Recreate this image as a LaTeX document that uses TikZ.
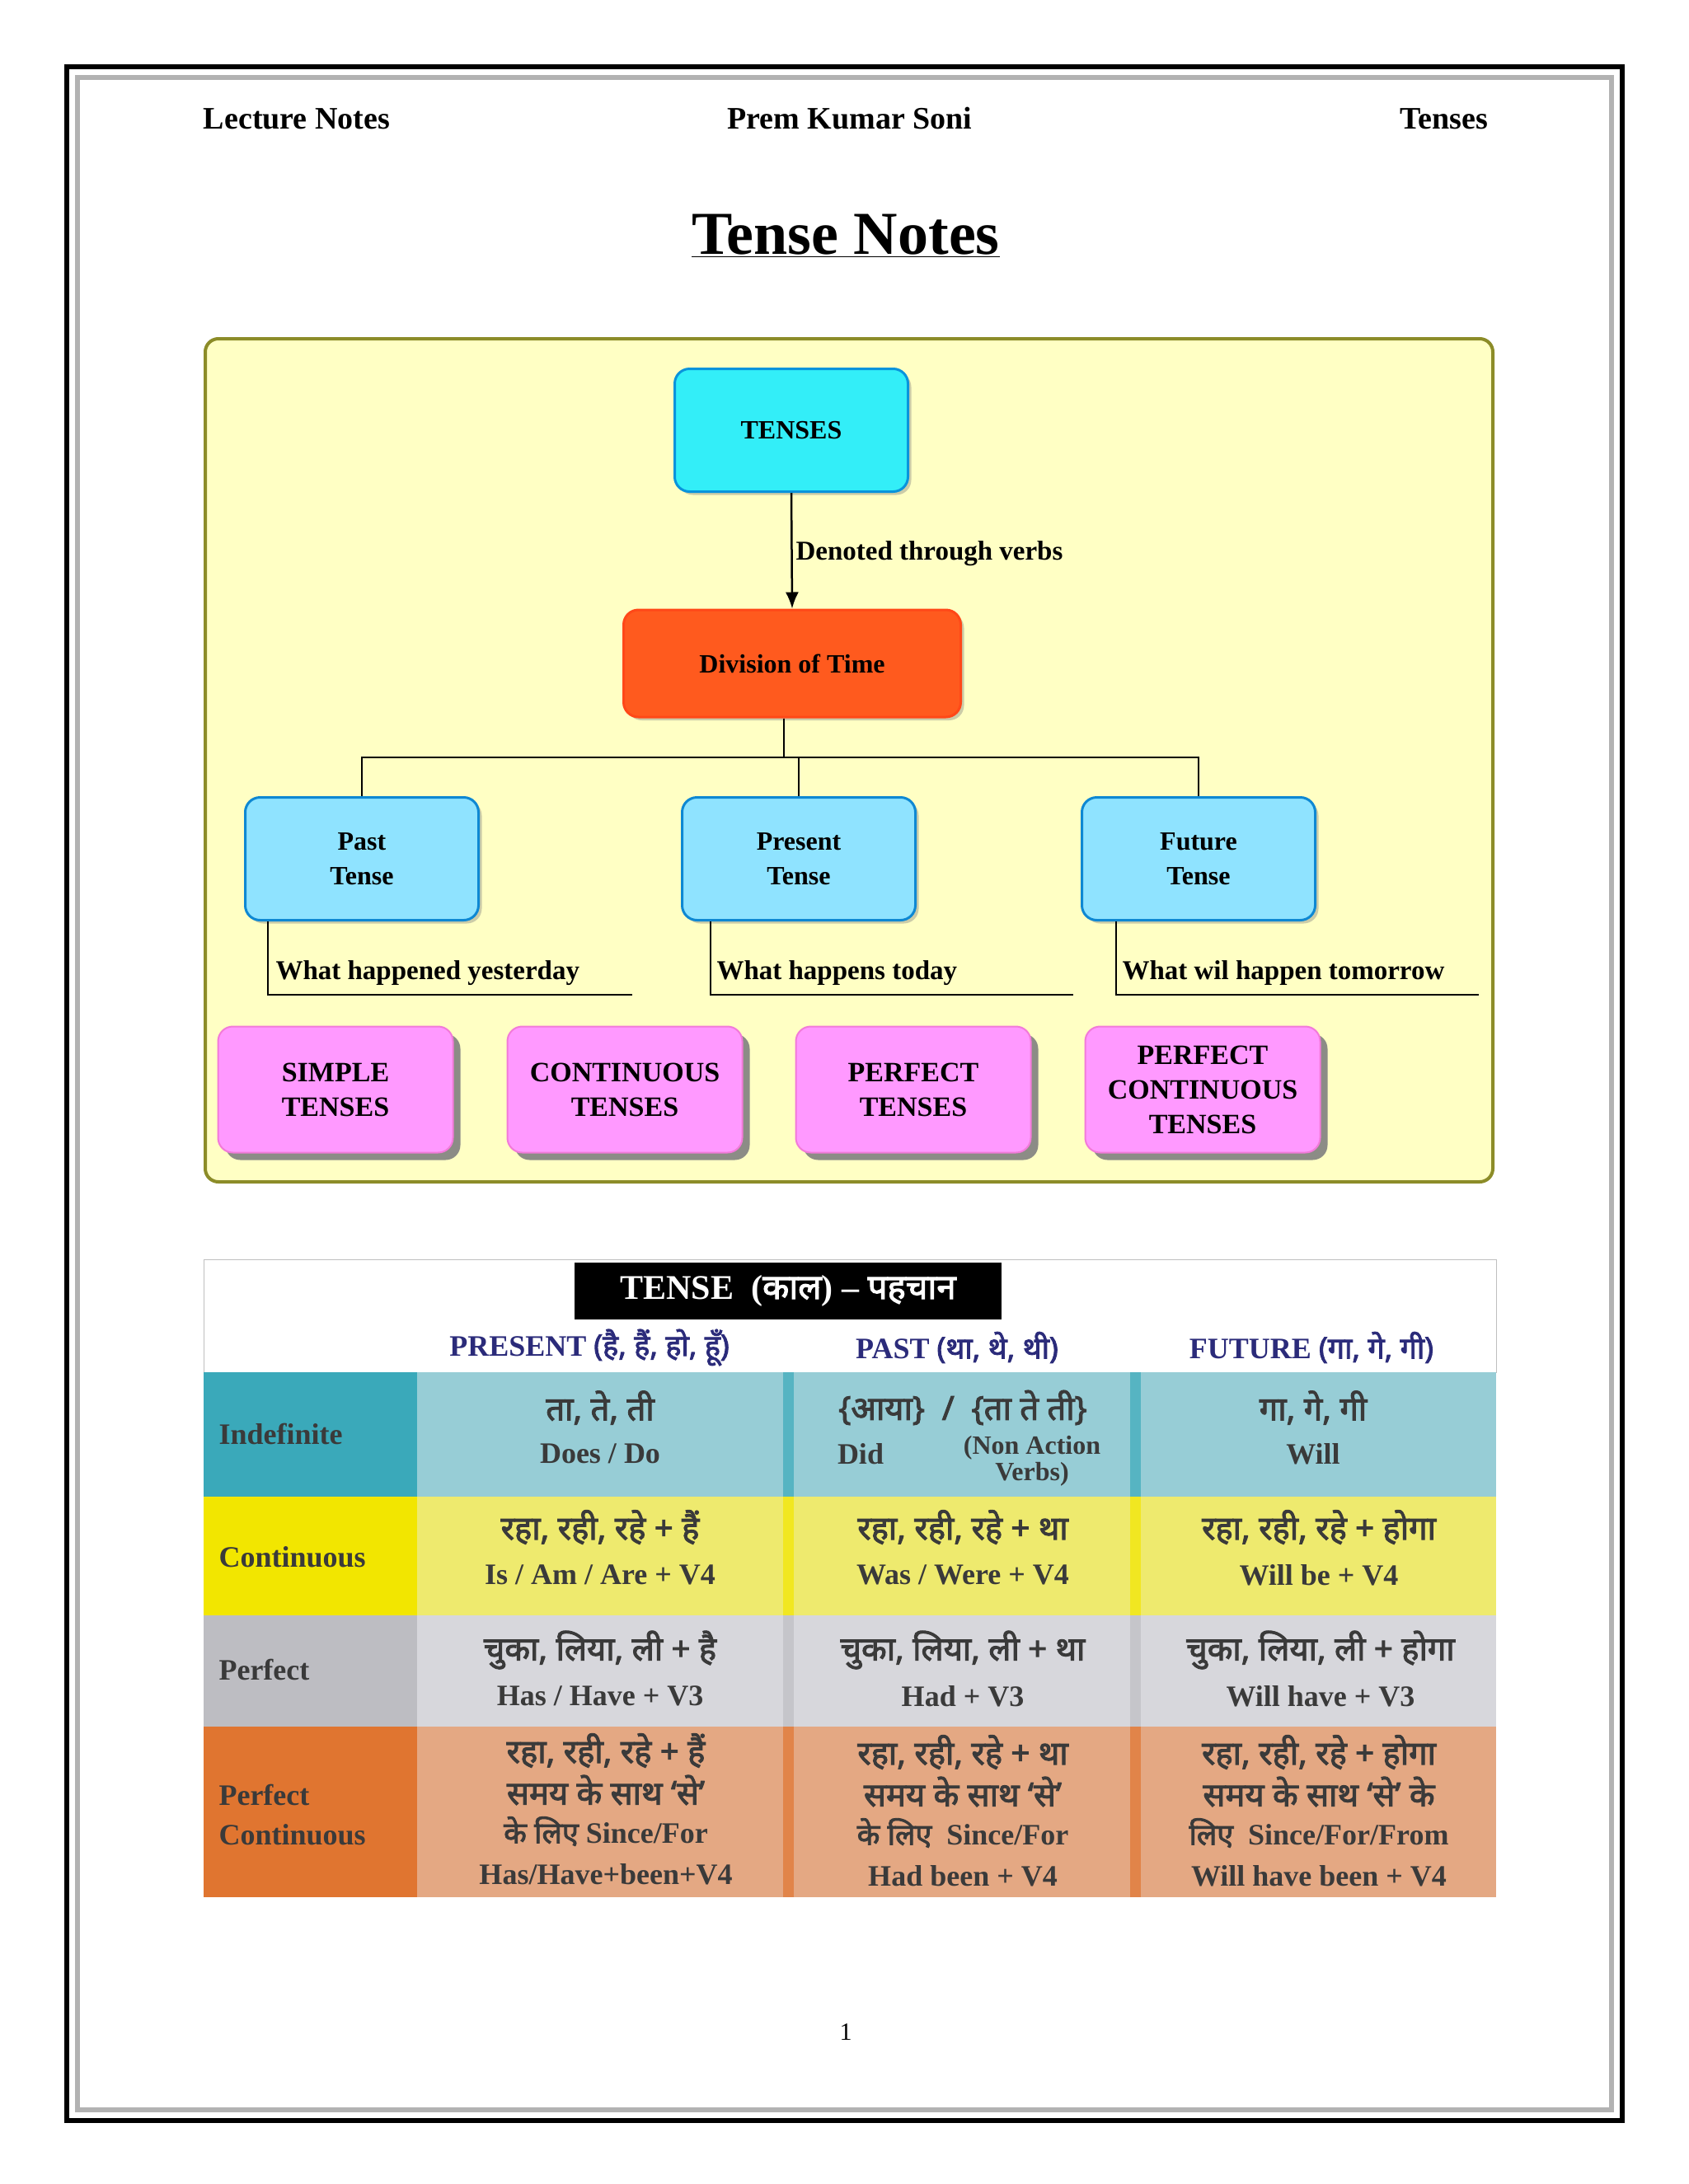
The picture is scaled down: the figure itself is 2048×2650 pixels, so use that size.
\documentclass[tikz,border=0pt]{standalone}
\usepackage{fontspec}
\setmainfont{Liberation Serif}
\newfontfamily\hi[Script=Devanagari,FakeBold=2.5]{Noto Sans}
\usetikzlibrary{shadows,arrows.meta}
\definecolor{cyanbox}{HTML}{33EEF8}
\definecolor{divbox}{HTML}{FF5A1E}
\definecolor{tensebox}{HTML}{8FE3FF}
\definecolor{pinkbox}{HTML}{FF99FF}
\definecolor{yellbg}{HTML}{FFFFC4}
\definecolor{olive}{HTML}{8C8C28}
\definecolor{navy}{HTML}{2B2B7A}
\definecolor{txt}{HTML}{3A3A3A}
\definecolor{indL}{HTML}{3AA9BA}\definecolor{indC}{HTML}{97CDD6}
\definecolor{conL}{HTML}{F2E600}\definecolor{conC}{HTML}{EEEA6E}
\definecolor{perL}{HTML}{BDBDC2}\definecolor{perC}{HTML}{D7D7DC}
\definecolor{pcL}{HTML}{E07530}\definecolor{pcC}{HTML}{E4A883}
\tikzset{
 box/.style={rounded corners=18pt,minimum width=283pt,minimum height=149pt,align=center,font=\fontsize{32}{42}\selectfont\bfseries},
 tbox/.style={box,fill=tensebox,draw=cyan!70!blue,line width=3pt,drop shadow={shadow xshift=4pt,shadow yshift=-4pt,opacity=0.4}},
 pbox/.style={box,font=\fontsize{34}{42}\selectfont\bfseries,fill=pinkbox,draw=pinkbox!80!purple,line width=2pt,minimum width=285pt,minimum height=153pt,drop shadow={shadow xshift=9pt,shadow yshift=-9pt,opacity=0.9}},
 conn/.style={line width=2.5pt},
 lab/.style={font=\fontsize{33}{36}\selectfont\bfseries,anchor=west},
 hd/.style={font=\fontsize{38}{44}\selectfont\bfseries},
 cell/.style={font=\fontsize{36}{44}\selectfont\bfseries,text=txt},
 hcell/.style={font=\hi\fontsize{40}{48}\selectfont,text=txt},
 rl/.style={font=\fontsize{36}{44}\selectfont\bfseries,text=txt,anchor=west,align=left},
}
\begin{document}
\begin{tikzpicture}[x=1pt,y=-1pt]
\useasboundingbox (0,0) rectangle (2048,2650);
\fill[white] (0,0) rectangle (2048,2650);
% page borders
\draw[line width=6pt] (81,81) rectangle (1968,2573);
\draw[line width=6pt,gray!60] (94,94) rectangle (1955,2560);
% header
\node[hd] (h1) at (360,144) {Lecture Notes};
\node[hd] (h2) at (1031,144) {Prem Kumar Soni};
\node[hd] (h3) at (1752,144) {Tenses};
\node[font=\fontsize{74}{80}\selectfont\bfseries] (title) at (1026,286) {\underline{Tense Notes}};
% yellow panel
\draw[fill=yellbg,draw=olive,line width=4pt,rounded corners=16pt] (249,411) rectangle (1811,1434);
\node[box,fill=cyanbox,draw=cyan!80!blue,line width=3pt,drop shadow={shadow xshift=4pt,shadow yshift=-4pt,opacity=0.4}] (tenses) at (960,522) {TENSES};
\node[box,fill=divbox,draw=divbox!80!red,line width=3pt,minimum width=409pt,minimum height=130pt,drop shadow={shadow xshift=4pt,shadow yshift=-4pt,opacity=0.4}] (div) at (961,805) {Division of Time};
\draw[conn,-{Latex[length=20pt,width=16pt]}] (tenses.south) -- (div.north);
\node[lab] (den) at (962,672) {Denoted through verbs};
\node[tbox] (past) at (439,1042) {Past\\Tense};
\node[tbox] (pres) at (969,1042) {Present\\Tense};
\node[tbox] (fut) at (1454,1042) {Future\\Tense};
\coordinate (j) at (951,919);
\draw[conn] (div.south -| j) -- (j);
\draw[conn] (past.north) |- (j) -| (fut.north);
\draw[conn] (j) -| (pres.north);
\coordinate (pa) at (325,1207); \coordinate (pb) at (767,1207);
\coordinate (qa) at (862,1207); \coordinate (qb) at (1302,1207);
\coordinate (fa) at (1354,1207); \coordinate (fb) at (1794,1207);
\draw[conn] (past.south -| pa) -- (pa) -- (pb);
\draw[conn] (pres.south -| qa) -- (qa) -- (qb);
\draw[conn] (fut.south -| fa) -- (fa) -- (fb);
\node[lab] (l1) at (331,1181) {What happened yesterday};
\node[lab] (l2) at (866,1181) {What happens today};
\node[lab] (l3) at (1358,1181) {What wil happen tomorrow};
\node[pbox] (s1) at (407,1322) {SIMPLE\\TENSES};
\node[pbox] (s2) at (758,1322) {CONTINUOUS\\TENSES};
\node[pbox] (s3) at (1108,1322) {PERFECT\\TENSES};
\node[pbox] (s4) at (1459,1322) {PERFECT\\CONTINUOUS\\TENSES};
% table
\draw[gray!50,line width=1pt,fill=white] (247,1528) rectangle (1815,1665);
\node[fill=black,text=white,minimum width=518pt,minimum height=69pt,font=\fontsize{42}{46}\selectfont\bfseries] (tt) at (956,1566) {TENSE\ \ ({\hi काल}) -- {\hi पहचान}};
\node[font=\fontsize{36}{40}\selectfont\bfseries,text=navy] (cp) at (715,1635) {PRESENT {\hi (है, हैं, हो, हूँ)}};
\node[font=\fontsize{36}{40}\selectfont\bfseries,text=navy] (cq) at (1161,1635) {PAST {\hi (था, थे, थी)}};
\node[font=\fontsize{36}{40}\selectfont\bfseries,text=navy] (cf) at (1591,1635) {FUTURE {\hi (गा, गे, गी)}};
% rows
\foreach \ya/\yb/\L/\C in {1665/1816/indL/indC,1816/1960/conL/conC,1960/2095/perL/perC,2095/2302/pcL/pcC}{
 \fill[\L] (247,\ya) rectangle (506,\yb);
 \fill[\C] (506,\ya) rectangle (1815,\yb);
 \fill[\L!70!\C] (950,\ya) rectangle (963,\yb);
 \fill[\L!70!\C] (1371,\ya) rectangle (1384,\yb);
}
\node[rl] (r1) at (262,1740) {Indefinite};
\node[rl] (r2) at (262,1889) {Continuous};
\node[rl] (r3) at (262,2026) {Perfect};
\node[rl] (r4) at (262,2202) {Perfect\\[4pt]Continuous};
% indefinite
\node[hcell] (a1) at (728,1708) {ता, ते, ती};
\node[cell] (a2) at (728,1764) {Does / Do};
\node[hcell] (b1) at (1168,1708) {\{आया\}\ \ /\ \ \{ता ते ती\}};
\node[cell] (b2) at (1044,1764) {Did};
\node[cell,align=center,font=\fontsize{32}{32}\selectfont\bfseries] (b3) at (1252,1773) {(Non Action\\Verbs)};
\node[hcell] (c1) at (1593,1708) {गा, गे, गी};
\node[cell] (c2) at (1593,1764) {Will};
% continuous
\node[hcell] (a3) at (728,1853) {रहा, रही, रहे + हैं};
\node[cell] (a4) at (728,1911) {Is / Am / Are + V4};
\node[hcell] (b4) at (1168,1853) {रहा, रही, रहे + था};
\node[cell] (b5) at (1168,1911) {Was / Were + V4};
\node[hcell] (c3) at (1600,1853) {रहा, रही, रहे + होगा};
\node[cell] (c4) at (1600,1911) {Will be + V4};
% perfect
\node[hcell] (a5) at (728,2002) {चुका, लिया, ली + है};
\node[cell] (a6) at (728,2058) {Has / Have + V3};
\node[hcell] (b6) at (1168,2002) {चुका, लिया, ली + था};
\node[cell] (b7) at (1168,2058) {Had + V3};
\node[hcell] (c5) at (1602,2002) {चुका, लिया, ली + होगा};
\node[cell] (c6) at (1602,2058) {Will have + V3};
% perfect continuous
\node[hcell] (a7) at (735,2124) {रहा, रही, रहे + हैं};
\node[hcell] (a8) at (735,2172) {समय के साथ ‘से’};
\node[cell] (a9) at (735,2222) {{\hi के लिए} Since/For};
\node[cell] (a10) at (735,2274) {Has/Have+been+V4};
\node[hcell] (b8) at (1168,2126) {रहा, रही, रहे + था};
\node[hcell] (b9) at (1168,2174) {समय के साथ ‘से’};
\node[cell] (b10) at (1168,2224) {{\hi के लिए}\ \ Since/For};
\node[cell] (b11) at (1168,2276) {Had been + V4};
\node[hcell] (c7) at (1600,2126) {रहा, रही, रहे + होगा};
\node[hcell] (c8) at (1600,2174) {समय के साथ ‘से’ के};
\node[cell] (c9) at (1600,2224) {{\hi लिए}\ \ Since/For/From};
\node[cell] (c10) at (1600,2276) {Will have been + V4};
\node[font=\fontsize{30}{36}\selectfont] (pg) at (1026,2466) {1};
\end{tikzpicture}
\end{document}
